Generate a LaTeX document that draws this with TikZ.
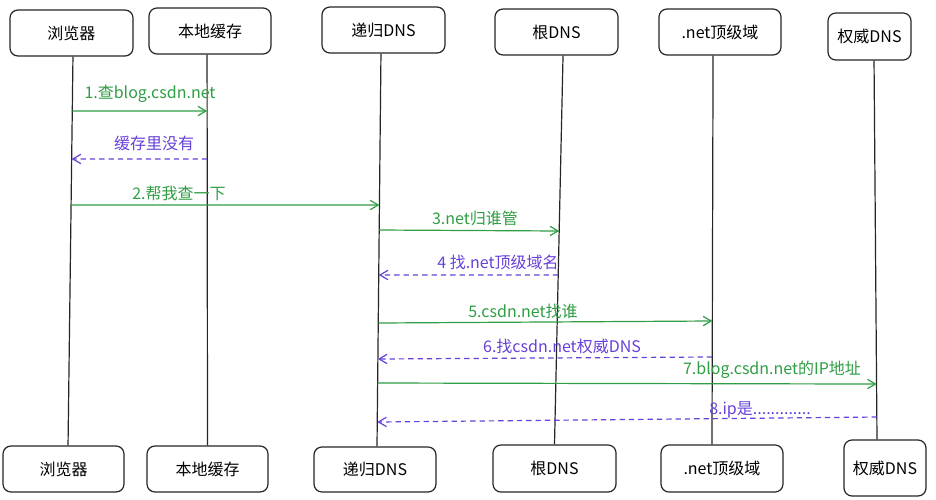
\documentclass[tikz,border=0pt]{standalone}
\usepackage{fontspec}
\setmainfont{Noto Sans CJK SC}
\usetikzlibrary{arrows.meta}

\definecolor{askgreen}{HTML}{2F9E44}
\definecolor{replyviolet}{HTML}{6741D9}

\tikzset{
  actor/.style={draw=black!85, line width=0.9pt, rounded corners=6pt,
    minimum width=#1, minimum height=34.5pt, inner sep=1pt,
    font=\fontsize{12}{14}\selectfont},
  life/.style={line width=0.9pt, black!85},
  ask/.style={line width=0.9pt, askgreen, -{Straight Barb[length=6pt,width=7pt]}},
  reply/.style={ask, replyviolet, dash pattern=on 4pt off 3pt},
  asktext/.style={askgreen, font=\fontsize{12}{14}\selectfont, inner sep=1pt},
  replytext/.style={asktext, replyviolet}
}

% point of a lifeline at a given height
\newcommand{\lane}[2]{(intersection of #1top--#1bot and 0,#2--1,#2)}

\begin{document}
\begin{tikzpicture}[x=0.75pt, y=-0.75pt]
    \useasboundingbox[fill=white] (0,0) rectangle (936,500);

    \node[actor=92.3pt] (bro) at (71.5,33) {浏览器};
    \node[actor=91.5pt] (cache) at (210,31) {本地缓存};
    \node[actor=92.3pt] (rec) at (383.5,30) {递归DNS};
    \node[actor=92.3pt] (root) at (556.5,32) {根DNS};
    \node[actor=91.5pt] (tld) at (720,32) {.net顶级域};
    \node[actor=62.3pt, minimum height=35.3pt] (auth) at (869.5,36.5) {权威DNS};

    \node[actor=90.8pt] (bro2) at (63.5,469) {浏览器};
    \node[actor=90.8pt] (cache2) at (207.5,469) {本地缓存};
    \node[actor=91.5pt, minimum height=33.8pt] (rec2) at (375,469.5) {递归DNS};
    \node[actor=92.3pt, minimum height=35.3pt] (root2) at (554.5,468.5) {根DNS};
    \node[actor=91.5pt, minimum height=35.3pt] (tld2) at (722,468.5) {.net顶级域};
    \node[actor=61.5pt, minimum height=42pt] (auth2) at (885,468) {权威DNS};

    % lifeline ends
    \coordinate (brotop) at ([xshift=1.1pt]bro.south);
    \coordinate (brobot) at ([xshift=3.4pt]bro2.north);
    \coordinate (cachetop) at ([xshift=-2.2pt]cache.south);
    \coordinate (cachebot) at (cache2.north);
    \coordinate (rectop) at ([xshift=-1.9pt]rec.south);
    \coordinate (recbot) at ([xshift=1.5pt]rec2.north);
    \coordinate (roottop) at ([xshift=4.9pt]root.south);
    \coordinate (rootbot) at (root2.north);
    \coordinate (tldtop) at ([xshift=-5.2pt]tld.south);
    \coordinate (tldbot) at ([xshift=-7.5pt]tld2.north);
    \coordinate (authtop) at ([xshift=3.4pt]auth.south);
    \coordinate (authbot) at ([xshift=-6pt]auth2.north);

    \draw[life] (brotop) -- (brobot);
    \draw[life] (cachetop) -- (cachebot);
    \draw[life] (rectop) -- (recbot);
    \draw[life] (roottop) -- (rootbot);
    \draw[life] (tldtop) -- (tldbot);
    \draw[life] (authtop) -- (authbot);

    \draw[ask] \lane{bro}{111} -- \lane{cache}{111};
    \node[asktext] (m1) at (150,94) {1.查blog.csdn.net};

    \draw[reply] \lane{cache}{159} -- \lane{bro}{159};
    \node[replytext] (m2) at (154,143) {缓存里没有};

    \draw[ask] \lane{bro}{205} -- \lane{rec}{205};
    \node[asktext] (m3) at (179,193) {2.帮我查一下};

    \draw[ask] \lane{rec}{230} -- \lane{root}{231};
    \node[asktext] (m4) at (475,218) {3.net归谁管};

    \draw[reply] \lane{root}{275} -- \lane{rec}{275};
    \node[replytext] (m5) at (498,262) {4 找.net顶级域名};

    \draw[ask] \lane{rec}{323} -- \lane{tld}{321};
    \node[asktext] (m6) at (523,311) {5.csdn.net找谁};

    \draw[reply] \lane{tld}{357} -- \lane{rec}{359};
    \node[replytext] (m7) at (562,346) {6.找csdn.net权威DNS};

    \draw[ask] \lane{rec}{383} -- \lane{auth}{384};
    \node[asktext] (m8) at (772,370) {7.blog.csdn.net的IP地址};

    \draw[reply] \lane{auth}{417} -- \lane{rec}{422};
    \node[replytext] (m9) at (760,410) {8.ip是.............};
\end{tikzpicture}
\end{document}
